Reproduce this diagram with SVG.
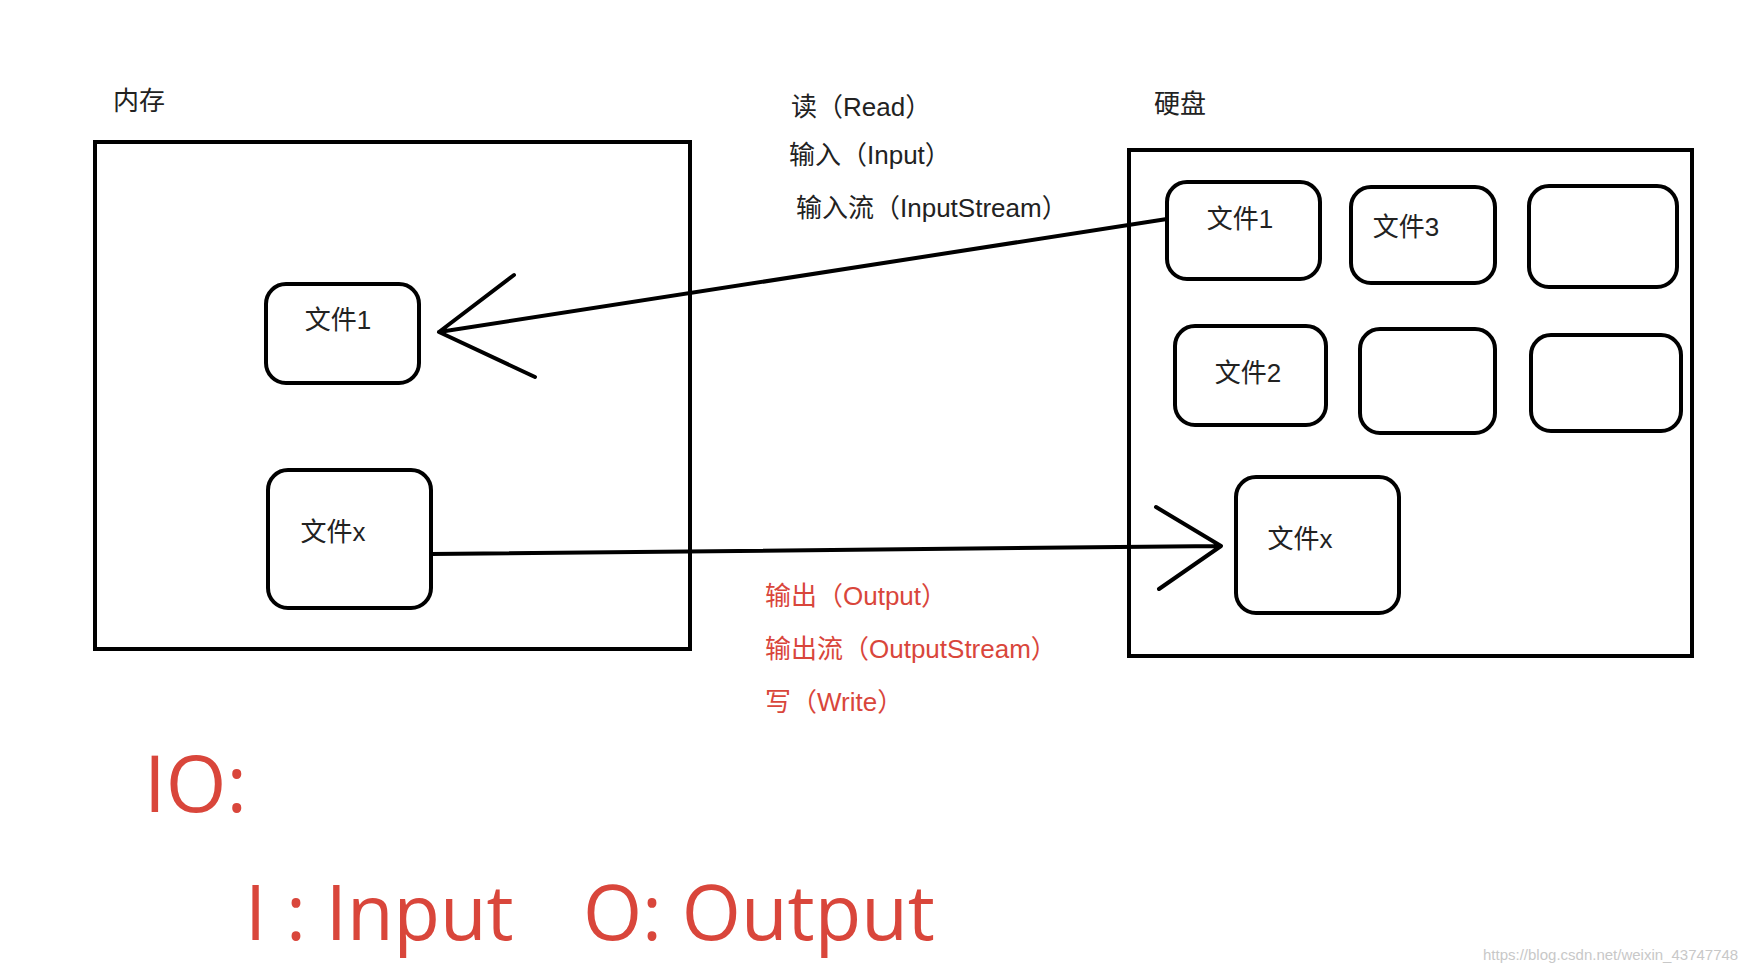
<svg xmlns="http://www.w3.org/2000/svg" width="1756" height="970" viewBox="0 0 1756 970">
<style>
.b{fill:none;stroke:#000;stroke-width:4}
.n{fill:#fff;stroke:#000;stroke-width:4}
.t{font-family:"Liberation Sans","Noto Sans CJK SC",sans-serif;font-size:26px;fill:#222}
.c{text-anchor:middle}
.r{font-family:"Liberation Sans","Noto Sans CJK SC",sans-serif;font-size:26px;fill:#d9463b}
.big{font-family:"Open Sans","Liberation Sans",sans-serif;fill:#d9463b}
.l{fill:none;stroke:#000;stroke-width:4;stroke-linecap:round;stroke-linejoin:round}
</style>
<rect width="1756" height="970" fill="#fff"/>
<g id="memory"><rect class="b" x="95" y="142" width="595" height="507"/><text class="t" x="113" y="110">内存</text></g>
<g id="disk"><rect class="b" x="1129" y="150" width="563" height="506"/><text class="t" x="1154" y="113">硬盘</text></g>
<g id="mem-file1"><rect class="n" x="266" y="284" width="153" height="99" rx="20"/><text class="t c" x="338" y="329">文件1</text></g>
<g id="mem-filex"><rect class="n" x="268" y="470" width="163" height="138" rx="20"/><text class="t c" x="333" y="541">文件x</text></g>
<g id="disk-file1"><rect class="n" x="1167" y="182" width="153" height="97" rx="20"/><text class="t c" x="1240" y="228">文件1</text></g>
<g id="disk-file3"><rect class="n" x="1351" y="187" width="144" height="96" rx="20"/><text class="t c" x="1406" y="236">文件3</text></g>
<g id="disk-e1"><rect class="n" x="1529" y="186" width="148" height="101" rx="20"/></g>
<g id="disk-file2"><rect class="n" x="1175" y="326" width="151" height="99" rx="20"/><text class="t c" x="1248" y="382">文件2</text></g>
<g id="disk-e2"><rect class="n" x="1360" y="329" width="135" height="104" rx="20"/></g>
<g id="disk-e3"><rect class="n" x="1531" y="335" width="150" height="96" rx="20"/></g>
<g id="disk-filex"><rect class="n" x="1236" y="477" width="163" height="136" rx="20"/><text class="t c" x="1300" y="548">文件x</text></g>
<g id="connectors">
<path class="l" d="M1167 219 L439 332 M514 275 L439 332 L535 377"/>
<path class="l" d="M431 554 L1221 546 M1156 507 L1221 546 L1159 589"/>
</g>
<g id="labels">
<text class="t" x="791" y="116">读（Read）</text>
<text class="t" x="789" y="164">输入（Input）</text>
<text class="t" x="796" y="217">输入流（InputStream）</text>
<text class="r" x="765" y="605">输出（Output）</text>
<text class="r" x="765" y="658">输出流（OutputStream）</text>
<text class="r" x="765" y="711">写（Write）</text>
<text class="big" x="144" y="812" font-size="78">IO:</text>
<text class="big" x="245" y="940" font-size="76">I : Input</text>
<text class="big" x="583" y="940" font-size="76">O: Output</text>
<text x="1483" y="960" font-family="Liberation Sans,sans-serif" font-size="15" fill="#c8c8c8">https://blog.csdn.net/weixin_43747748</text>
</g>
</svg>
